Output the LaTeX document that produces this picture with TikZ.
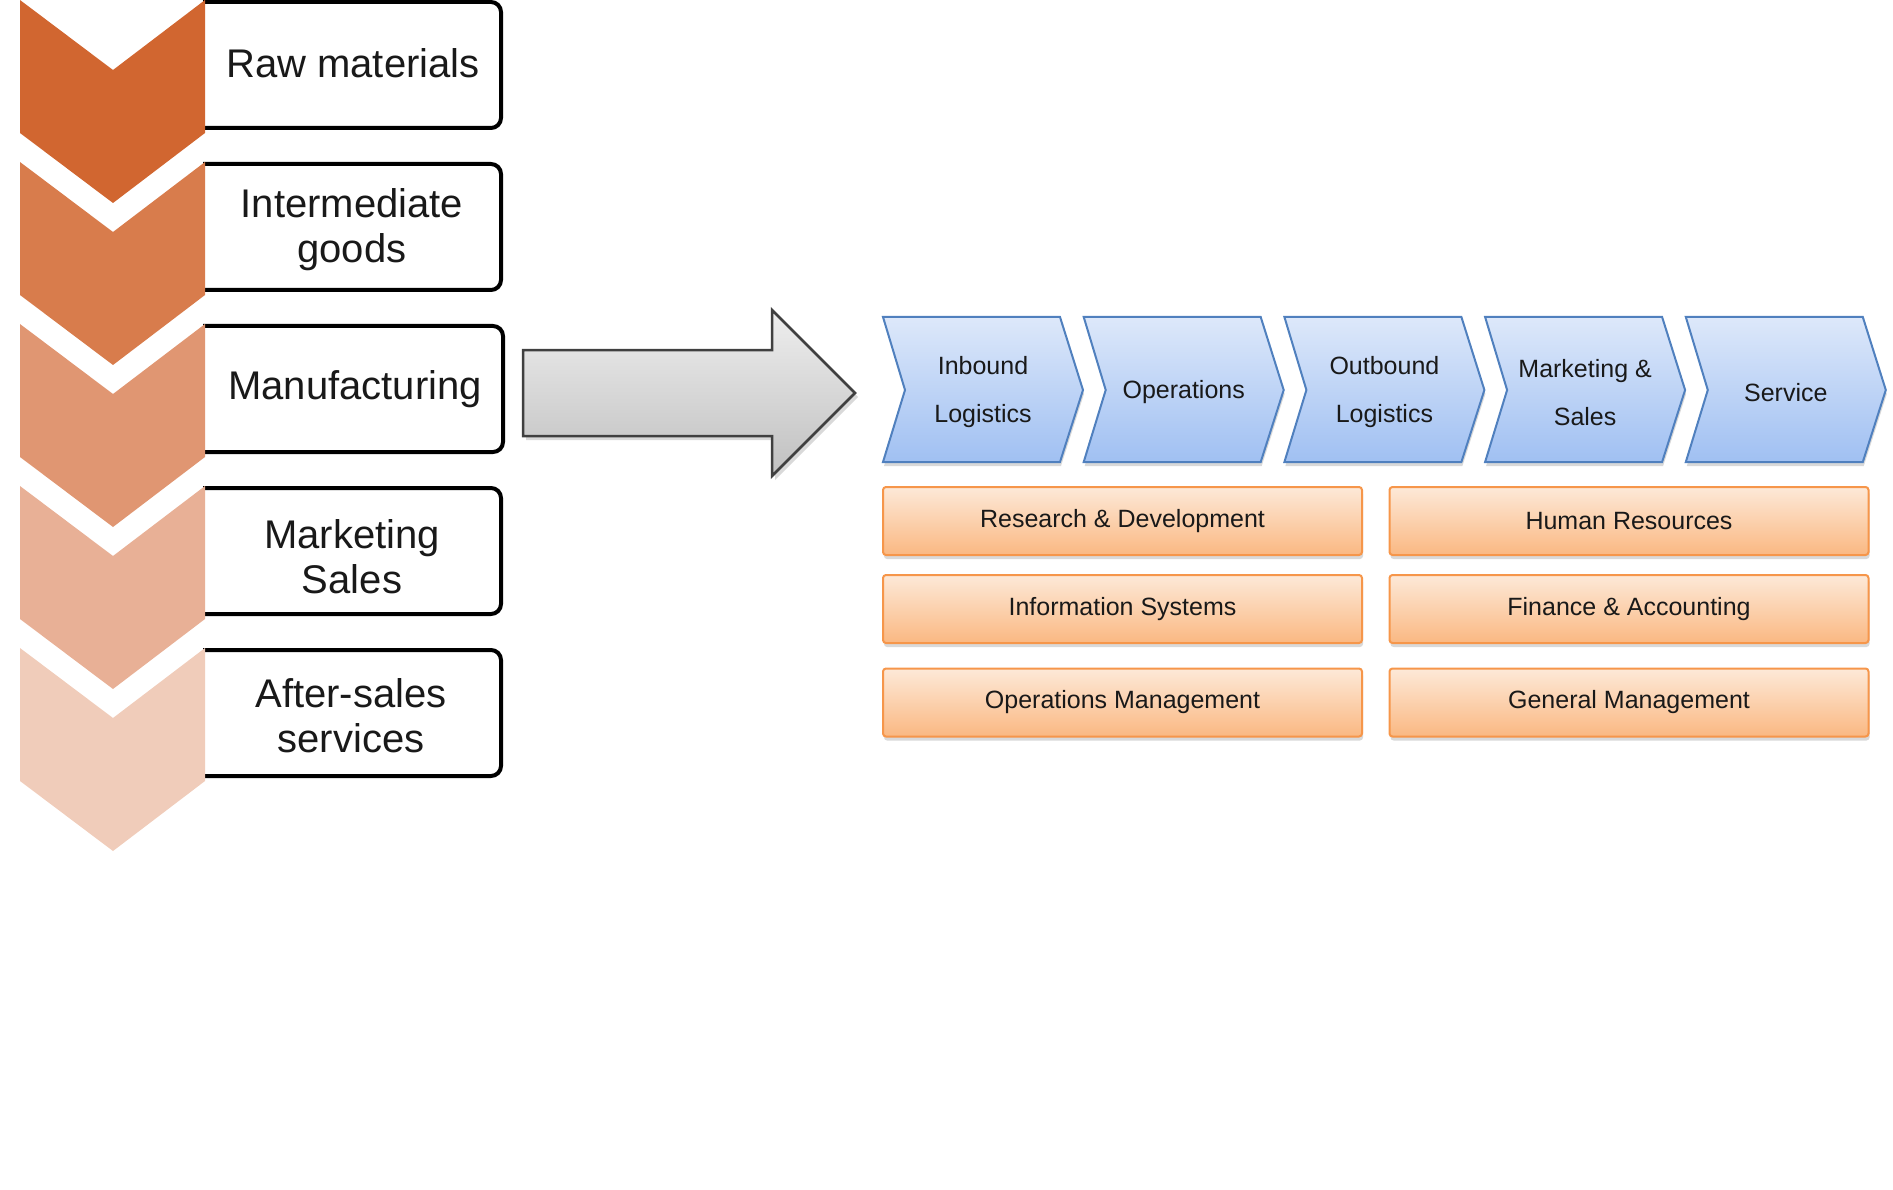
\documentclass[tikz,border=0pt]{standalone}
\usepackage{fontspec}
\setmainfont{Liberation Sans}
\usetikzlibrary{shadows}
\definecolor{chA}{RGB}{209,102,48}
\definecolor{chB}{RGB}{216,124,76}
\definecolor{chC}{RGB}{224,150,114}
\definecolor{chD}{RGB}{232,176,150}
\definecolor{chE}{RGB}{240,204,186}
\definecolor{bluetop}{RGB}{221,232,250}
\definecolor{bluebot}{RGB}{160,192,242}
\definecolor{blueline}{RGB}{80,128,190}
\definecolor{orgtop}{RGB}{253,233,216}
\definecolor{orgbot}{RGB}{250,184,130}
\definecolor{orgline}{RGB}{246,150,74}
\definecolor{arrtop}{RGB}{238,238,238}
\definecolor{arrbot}{RGB}{192,192,192}
\definecolor{arrline}{RGB}{64,64,64}
\tikzset{
  leftbox/.style={draw=black, line width=4pt, rounded corners=10pt, fill=white,
    minimum width=351pt, minimum height=126pt, inner sep=0pt},
  lefttext/.style={font=\fontsize{40}{45}\selectfont, align=center, inner sep=0pt, text=black!90},
  primary/.style={draw=blueline, line width=2pt, top color=bluetop, bottom color=bluebot,
    drop shadow={shadow xshift=1pt, shadow yshift=-4pt, opacity=0.3}},
  primtext/.style={font=\fontsize{25}{48}\selectfont, align=center, inner sep=0pt, text=black!90, yshift=-2.5pt},
  support/.style={draw=orgline, line width=2pt, rounded corners=3pt, top color=orgtop, bottom color=orgbot,
    minimum width=479pt, minimum height=68pt, inner sep=0pt,
    font=\fontsize{25}{30}\selectfont, text=black!90,
    drop shadow={shadow xshift=1pt, shadow yshift=-4pt, opacity=0.3}},
  bigarrow/.style={draw=arrline, line width=2.5pt, line join=miter, top color=arrtop, bottom color=arrbot,
    drop shadow={shadow xshift=3pt, shadow yshift=-4pt, opacity=0.3}}
}
\begin{document}
\begin{tikzpicture}[x=1pt,y=-1pt]
\useasboundingbox (0,0) rectangle (1893,1190);
% left boxes (left edge hidden under the chevrons)
\foreach \T/\n/\dx in {0/b1/0,162/b2/0,324/b3/2,486/b4/0,648/b5/0}{
  \begin{scope}
    \clip (203,\T-6) rectangle (530,\T+140);
    \node[leftbox] (\n) at (325.5+\dx,\T+65) {};
  \end{scope}
}
\node[lefttext] (t1) at (353,63) {Raw materials};
\node[lefttext] (t2) at (352,230) {Intermediate\\goods};
\node[lefttext] (t3) at (355,389) {Manufacturing};
\node[lefttext] (t4) at (352,557) {Marketing\\Sales};
\node[lefttext] (t5) at (351,716) {After-sales\\services};
% left chevrons
\foreach \T/\c in {0/chA,162/chB,324/chC,486/chD,648/chE}{
  \fill[\c] (20,\T) -- (113,\T+70) -- (205,\T) -- (205,\T+133) -- (113,\T+203) -- (20,\T+133) -- cycle;
}
% big arrow
\path[bigarrow] (523,350) -- (772,350) -- (772,310) -- (855,393) -- (772,476) -- (772,436) -- (523,436) -- cycle;
% primary activities
\foreach \i/\n in {0/p1,1/p2,2/p3,3/p4,4/p5}{
  \pgfmathsetmacro{\xo}{883+200.7*\i}
  \path[primary] (\xo,317) -- (\xo+177,317) -- (\xo+200,390) -- (\xo+177,462) -- (\xo,462) -- (\xo+22,390) -- cycle;
  \coordinate (\n) at (\xo+100,390);
}
\node[primtext] (l1) at (p1) {Inbound\\Logistics};
\node[primtext] (l2) at (p2) {Operations};
\node[primtext] (l3) at (p3) {Outbound\\Logistics};
\node[primtext] (l4) at (p4) {Marketing \&\\Sales};
\node[primtext] (l5) at (p5) {Service};
% support activities
\node[support] (s1) at (1122.5,521) {Research \& Development};
\node[support] (s2) at (1629,521) {Human Resources};
\node[support] (s3) at (1122.5,609) {Information Systems};
\node[support] (s4) at (1629,609) {Finance \& Accounting};
\node[support] (s5) at (1122.5,702.5) {Operations Management};
\node[support] (s6) at (1629,702.5) {General Management};
\end{tikzpicture}
\end{document}
